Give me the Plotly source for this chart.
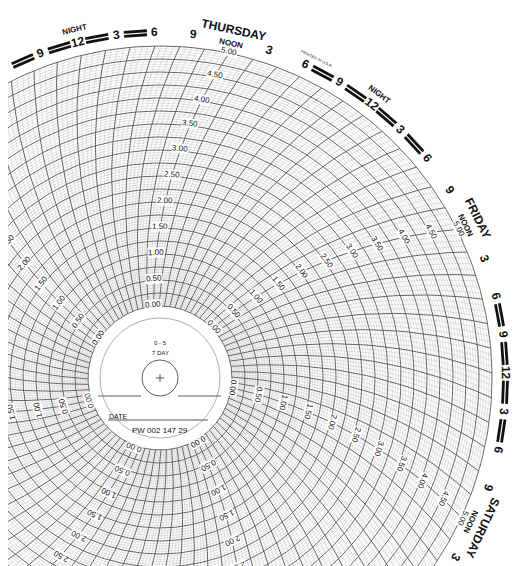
import numpy as np
import plotly.graph_objects as go

# chart data
days = ["THURSDAY", "FRIDAY", "SATURDAY", "SUNDAY", "MONDAY", "TUESDAY", "WEDNESDAY"]
hour_labels = ["NOON", "3", "6", "9", "12", "3", "6", "9"]  # every 3 h starting at noon
night_hours = [6, 9, 12, 15]  # 3h intervals after noon that are night (6pm..6am)
value_labels = [0.0, 0.5, 1.0, 1.5, 2.0, 2.5, 3.0, 3.5, 4.0, 4.5, 5.0]

CX, CY = 152, 370
R0, R5 = 72, 332
D = 450.0
BASE = 12.0  # bearing of Thursday noon at the 5.00 ring
DEG_PER_H = 360 / 168


def val_r(v):
    return R0 + v / 5 * (R5 - R0)


def bearing(r, t):
    phi = np.degrees(np.arccos(r / (2 * D)))
    phi5 = np.degrees(np.arccos(R5 / (2 * D)))
    return BASE + t * DEG_PER_H - (phi - phi5)


def xy(r, b):
    b = np.radians(b)
    return CX + r * np.sin(b), CY - r * np.cos(b)


fig = go.Figure()


def add_lines(segs, color, width):
    xs, ys = [], []
    for x, y in segs:
        xs += list(x) + [None]
        ys += list(y) + [None]
    fig.add_trace(go.Scatter(x=xs, y=ys, mode="lines", line=dict(color=color, width=width),
                             hoverinfo="skip", showlegend=False))


full = np.linspace(0, 360, 361)
rr = np.linspace(R0, R5, 30)
circ_minor, circ_major = [], []
for i in range(101):
    r = val_r(i * 0.05)
    (circ_major if i % 5 == 0 else circ_minor).append(xy(r, full))
time_minor, time_major = [], []
for k in range(168 * 2):
    t = k / 2
    seg = xy(rr, bearing(rr, t))
    (time_major if k % 4 == 0 else time_minor).append(seg)

add_lines(circ_minor, "#c4c4c4", 0.5)
add_lines(time_minor, "#c4c4c4", 0.5)
add_lines(circ_major, "#555555", 0.9)
add_lines(time_major, "#555555", 0.9)

# night bars on the outer ring (double stripes)
bars = []
for d in range(7):
    for h in night_hours:
        t = d * 24 + h
        b0 = BASE + t * DEG_PER_H
        arc = np.linspace(b0 + 1.3, b0 + 3 * DEG_PER_H - 1.3, 12)
        bars.append(xy(np.full(12, 343.5), arc))
        bars.append(xy(np.full(12, 347.5), arc))
add_lines(bars, "#111111", 2.8)

# hub
hub = xy(np.full(361, 60), full)
fig.add_trace(go.Scatter(x=hub[0], y=hub[1], fill="toself", fillcolor="white", mode="lines",
                         line=dict(color="#777", width=0.6), hoverinfo="skip", showlegend=False))
small = xy(np.full(361, 18), full)
add_lines([small, ([90, 133], [388, 388]), ([170, 213], [388, 388]), ([100, 200], [412, 412]),
           ([148, 156], [370, 370]), ([152, 152], [366, 374])], "#333", 0.8)

ann = []
def txt(x, y, s, size, angle=0, bold=False):
    ann.append(dict(x=x, y=y, text=f"<b>{s}</b>" if bold else s, showarrow=False, textangle=angle,
                    font=dict(size=size, color="#111", family="Liberation Sans")))

txt(152, 335, "0 - 5", 6)
txt(152, 345, "7 DAY", 6)
txt(110, 408, "DATE", 7)
txt(152, 422, "PW 002 147 29", 8)

# value labels along each noon line
for d in range(7):
    for v in value_labels:
        r = val_r(v)
        b = bearing(r, d * 24)
        x, y = xy(r + 2, b)
        ann.append(dict(x=x, y=y, text=f"{v:.2f}", showarrow=False, textangle=b,
                        bgcolor="white", borderpad=0,
                        font=dict(size=8, color="#111", family="Liberation Sans")))

# hour and day labels
for d in range(7):
    for j, lab in enumerate(hour_labels):
        t = d * 24 + j * 3
        b = BASE + t * DEG_PER_H
        if lab == "NOON":
            x, y = xy(342, b); txt(x, y, "NOON", 8, b, True)
            x, y = xy(356, b); txt(x, y, days[d], 12, b, True)
        else:
            x, y = xy(346, b); txt(x, y, lab, 12, b, True)
            if lab == "12":
                x, y = xy(359, b); txt(x, y, "NIGHT", 8, b, True)
bp = BASE + 6.6 * DEG_PER_H
x, y = xy(356, bp)
txt(x, y, "PRINTED IN U.S.A.", 4, bp)

fig.update_layout(width=519, height=566, margin=dict(l=0, r=0, t=0, b=0),
                  paper_bgcolor="white", plot_bgcolor="white", annotations=ann,
                  xaxis=dict(range=[0, 519], visible=False, fixedrange=True),
                  yaxis=dict(range=[566, 0], visible=False, fixedrange=True))
fig.write_html("out.html")
